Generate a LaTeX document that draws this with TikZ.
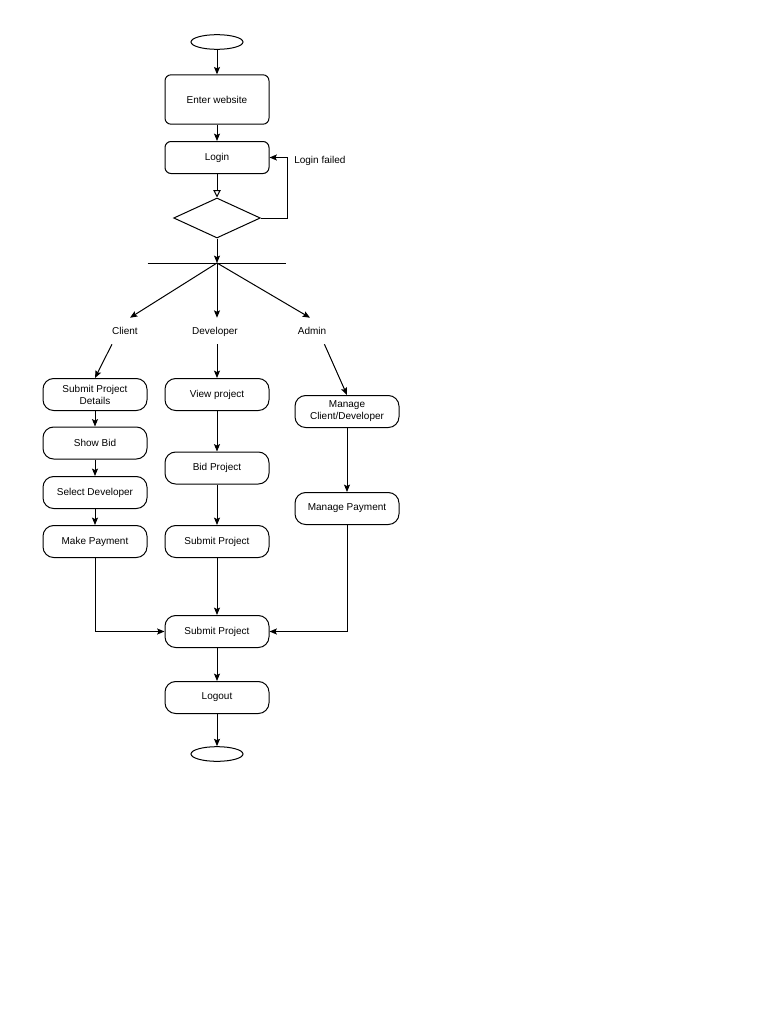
\documentclass[tikz,border=0pt]{standalone}
\usepackage{fontspec}
\setmainfont{Liberation Sans}
\usetikzlibrary{arrows.meta,shapes.geometric,calc}
\begin{document}
\begin{tikzpicture}[x=0.75pt,y=-0.75pt,
  every node/.style={font=\fontsize{7.5pt}{9pt}\selectfont},
  box/.style={draw,line width=0.75pt,rounded corners=4.5pt,minimum width=78pt,minimum height=24pt,inner sep=1pt,align=center},
  lane/.style={draw,line width=0.75pt,rounded corners=8pt,minimum width=78pt,minimum height=24pt,inner sep=1pt,align=center},
  term/.style={draw,line width=0.75pt,ellipse,minimum width=39pt,minimum height=11pt,inner sep=0pt},
  dec/.style={draw,line width=0.75pt,diamond,aspect=2.17,minimum width=65pt,minimum height=30pt,inner sep=0pt},
  lbl/.style={inner sep=0pt,minimum height=18pt,text height=5.5pt,text depth=1.5pt},
  arr/.style={line width=0.75pt,-{Stealth[length=5.5pt,width=4.5pt,inset=1pt]}},
  oarr/.style={line width=0.75pt,-{Triangle[open,length=5.5pt,width=5.5pt]}},
  ln/.style={line width=0.75pt}]
\useasboundingbox[fill=white] (0,0) rectangle (768,1024);

\node[term] (start) at (217,42) {};
\node[box,minimum height=37pt] (enter) at (217,99.5) {Enter website};
\node[box] (login) at (217,157.5) {Login};
\node[dec] (dia) at (217,218) {};
\node[anchor=west,inner sep=0pt] (failed) at (294,161) {Login failed};
\node[inner sep=0pt,minimum width=103.5pt,minimum height=0pt] (fork) at (217,263) {};

\node[lbl] (client) at (125,332) {Client};
\node[lbl] (dev) at (215,332) {Developer};
\node[lbl] (admin) at (312,332) {Admin};

\node[lane] (spd) at (95,394.5) {Submit Project\\Details};
\node[lane] (bid) at (95,443) {Show Bid};
\node[lane] (sel) at (95,492.5) {Select Developer};
\node[lane] (mpay) at (95,541.5) {Make Payment};

\node[lane] (view) at (217,394.5) {View project};
\node[lane] (bidp) at (217,468) {Bid Project};
\node[lane] (subp) at (217,541.5) {Submit Project};

\node[lane] (mcd) at (347,411.5) {Manage\\Client/Developer};
\node[lane] (mgp) at (347,508.5) {Manage Payment};

\node[lane] (sub2) at (217,631.5) {Submit Project};
\node[lane] (logout) at (217,697.5) {Logout};
\node[term] (stop) at (217,754) {};

\draw[arr] (start) -- (enter);
\draw[arr] (enter) -- (login);
\draw[oarr] (login) -- (dia);
\draw[arr] (dia.east) -| ($(login.east)+(18,0)$) -- (login.east);
\draw[ln] (fork.west) -- (fork.east);
\draw[arr] (dia.south) -- (fork.center);

\draw[arr] (fork.center) -- ($(client.north)+(5,-2)$);
\draw[arr] (fork.center) -- ($(dev.north)+(2,-2)$);
\draw[arr] (fork.center) -- ($(admin.north)+(-2,-2)$);

\draw[arr] ($(client.south west)+(0,0)$) -- (spd.north);
\draw[arr] ($(dev.south)+(2,0)$) -- (view.north);
\draw[arr] ($(admin.south east)+(-2,0)$) -- (mcd.north);

\draw[arr] (spd) -- (bid);
\draw[arr] (bid) -- (sel);
\draw[arr] (sel) -- (mpay);
\draw[arr] (view) -- (bidp);
\draw[arr] (bidp) -- (subp);
\draw[arr] (mcd) -- (mgp);

\draw[arr] (mpay.south) |- (sub2.west);
\draw[arr] (subp) -- (sub2);
\draw[arr] (mgp.south) |- (sub2.east);
\draw[arr] (sub2) -- (logout);
\draw[arr] (logout) -- (stop);
\end{tikzpicture}
\end{document}
